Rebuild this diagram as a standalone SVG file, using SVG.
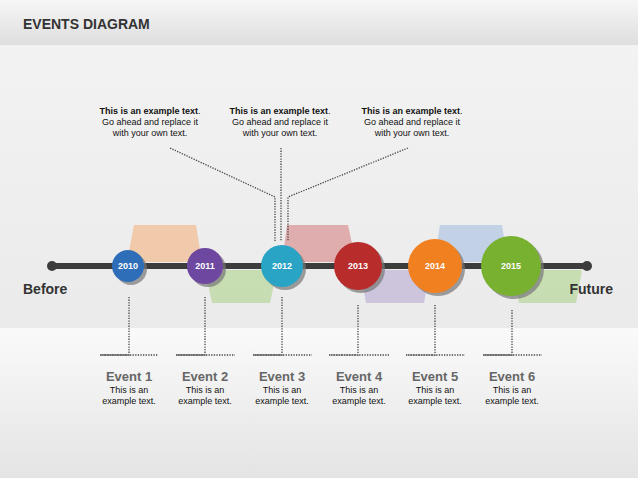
<svg xmlns="http://www.w3.org/2000/svg" width="638" height="478" viewBox="0 0 638 478">
<defs>
<linearGradient id="hdr" x1="0" y1="0" x2="0" y2="1"><stop offset="0" stop-color="#f6f6f6"/><stop offset="1" stop-color="#dedede"/></linearGradient>
<linearGradient id="bg" x1="0" y1="0" x2="0" y2="1"><stop offset="0" stop-color="#f4f4f4"/><stop offset="1" stop-color="#e6e6e6"/></linearGradient>
<linearGradient id="low" x1="0" y1="0" x2="0" y2="1"><stop offset="0" stop-color="#fafafa"/><stop offset="1" stop-color="#e4e4e4"/></linearGradient>
<linearGradient id="fu" x1="0" y1="0" x2="0" y2="1"><stop offset="0" stop-opacity="0.55" stop-color="#fff"/><stop offset="1" stop-opacity="0" stop-color="#fff"/></linearGradient>
<linearGradient id="fd" x1="0" y1="1" x2="0" y2="0"><stop offset="0" stop-opacity="0.55" stop-color="#fff"/><stop offset="1" stop-opacity="0" stop-color="#fff"/></linearGradient>
</defs>
<style>
.t{font-family:"Liberation Sans",Arial,sans-serif;fill:#111;font-size:9px;text-anchor:middle}
.b{font-weight:bold}
.ev{font-family:"Liberation Sans",Arial,sans-serif;fill:#666;font-size:13px;font-weight:bold;text-anchor:middle}
.yr{font-family:"Liberation Sans",Arial,sans-serif;fill:#fff;font-size:9px;font-weight:bold;text-anchor:middle}
.dot{stroke:#444;stroke-width:1.3;stroke-dasharray:1.3 1.3;fill:none}
.sh{fill:#777;opacity:0.7}
</style>
<rect width="638" height="478" fill="url(#bg)"/>
<rect width="638" height="45" fill="url(#hdr)"/>
<rect y="328" width="638" height="150" fill="url(#low)"/>
<text x="23" y="29" font-family="Liberation Sans,Arial,sans-serif" font-size="14" font-weight="bold" fill="#333">EVENTS DIAGRAM</text>
<g id="bands" opacity="0.45">
<polygon points="134,225 196,225 202,262 127,262" fill="#f5a05a"/>
<polygon points="205,270 277,270 270,303 212,303" fill="#9ccb6e"/>
<polygon points="287,225 348,225 356,262 282,262" fill="#d06060"/>
<polygon points="360,270 430,270 424,303 366,303" fill="#a898cc"/>
<polygon points="440,225 502,225 508,262 434,262" fill="#8fb0dc"/>
<polygon points="513,270 582,270 576,303 519,303" fill="#9ccb6e"/>
</g>
<g id="connectors">
<line x1="52" y1="266" x2="587" y2="266" stroke="#3c3c3c" stroke-width="6"/>
<circle cx="52" cy="266" r="5" fill="#3c3c3c"/><circle cx="587" cy="266" r="5" fill="#3c3c3c"/>
<polyline class="dot" points="170,148 275,197 275,241"/>
<polyline class="dot" points="281,148 281,241"/>
<polyline class="dot" points="408,148 288,197 288,241"/>
<polyline class="dot" points="129,297 129,355 100,355 158,355"/>
<polyline class="dot" points="205,297 205,355 176,355 235,355"/>
<polyline class="dot" points="282,297 282,355 253,355 312,355"/>
<polyline class="dot" points="358,305 358,355 329,355 389,355"/>
<polyline class="dot" points="435,305 435,355 406,355 465,355"/>
<polyline class="dot" points="512,310 512,355 483,355 542,355"/>
</g>
<g id="n2010"><circle class="sh" cx="131" cy="269" r="16"/><circle cx="128" cy="266" r="16" fill="#2e6db8"/><text class="yr" x="128" y="269">2010</text></g>
<g id="n2011"><circle class="sh" cx="208" cy="269" r="18"/><circle cx="205" cy="266" r="18" fill="#6e48a0"/><text class="yr" x="205" y="269">2011</text></g>
<g id="n2012"><circle class="sh" cx="285" cy="269" r="21"/><circle cx="282" cy="266" r="21" fill="#2aa4c4"/><text class="yr" x="282" y="269">2012</text></g>
<g id="n2013"><circle class="sh" cx="361" cy="269" r="24"/><circle cx="358" cy="266" r="24" fill="#b82c2c"/><text class="yr" x="358" y="269">2013</text></g>
<g id="n2014"><circle class="sh" cx="438" cy="269" r="27"/><circle cx="435" cy="266" r="27" fill="#f08020"/><text class="yr" x="435" y="269">2014</text></g>
<g id="n2015"><circle class="sh" cx="514" cy="269" r="30"/><circle cx="511" cy="266" r="30" fill="#78b030"/><text class="yr" x="511" y="269">2015</text></g>
<text x="23" y="294" font-family="Liberation Sans,Arial,sans-serif" font-size="14" font-weight="bold" fill="#333">Before</text>
<text x="613" y="294" text-anchor="end" font-family="Liberation Sans,Arial,sans-serif" font-size="14" font-weight="bold" fill="#333">Future</text>
<g id="c1"><text class="t" x="150" y="114"><tspan class="b">This is an example text</tspan>.</text><text class="t" x="150" y="125">Go ahead and replace it</text><text class="t" x="150" y="136">with your own text.</text></g>
<g id="c2"><text class="t" x="280" y="114"><tspan class="b">This is an example text</tspan>.</text><text class="t" x="280" y="125">Go ahead and replace it</text><text class="t" x="280" y="136">with your own text.</text></g>
<g id="c3"><text class="t" x="412" y="114"><tspan class="b">This is an example text</tspan>.</text><text class="t" x="412" y="125">Go ahead and replace it</text><text class="t" x="412" y="136">with your own text.</text></g>
<g id="e1"><text class="ev" x="129" y="381">Event 1</text><text class="t" x="129" y="393">This is an</text><text class="t" x="129" y="404">example text.</text></g>
<g id="e2"><text class="ev" x="205" y="381">Event 2</text><text class="t" x="205" y="393">This is an</text><text class="t" x="205" y="404">example text.</text></g>
<g id="e3"><text class="ev" x="282" y="381">Event 3</text><text class="t" x="282" y="393">This is an</text><text class="t" x="282" y="404">example text.</text></g>
<g id="e4"><text class="ev" x="359" y="381">Event 4</text><text class="t" x="359" y="393">This is an</text><text class="t" x="359" y="404">example text.</text></g>
<g id="e5"><text class="ev" x="435" y="381">Event 5</text><text class="t" x="435" y="393">This is an</text><text class="t" x="435" y="404">example text.</text></g>
<g id="e6"><text class="ev" x="512" y="381">Event 6</text><text class="t" x="512" y="393">This is an</text><text class="t" x="512" y="404">example text.</text></g>
</svg>
